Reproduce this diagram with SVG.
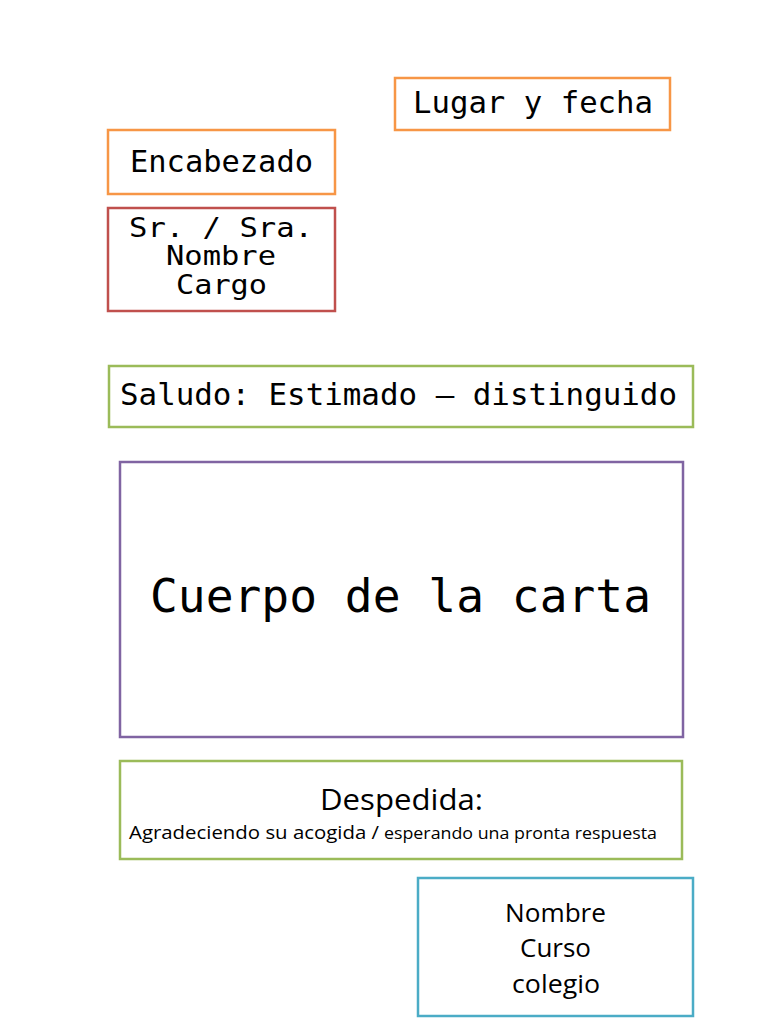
<svg xmlns="http://www.w3.org/2000/svg" width="768" height="1024" viewBox="0 0 768 1024">
<style>
.box{fill:#fff;stroke-width:2.5}
.mono{font-family:"DejaVu Sans Mono","Liberation Mono",monospace;fill:#000}
.sans{font-family:"Open Sans","Noto Sans","Liberation Sans",sans-serif;fill:#000}
</style>
<rect width="768" height="1024" fill="#fff"/>
<g id="lugar">
<rect class="box" x="395" y="78" width="275" height="52" stroke="#F79646"/>
<text class="mono" x="413" y="113" font-size="30" textLength="240" lengthAdjust="spacingAndGlyphs">Lugar y fecha</text>
</g>
<g id="encabezado">
<rect class="box" x="108" y="130" width="227" height="64" stroke="#F79646"/>
<text class="mono" x="130" y="172" font-size="30" textLength="183" lengthAdjust="spacingAndGlyphs">Encabezado</text>
</g>
<g id="destinatario">
<rect class="box" x="108" y="208" width="227" height="103" stroke="#C0504D"/>
<text class="mono" x="129" y="237" font-size="27" textLength="184" lengthAdjust="spacingAndGlyphs">Sr. / Sra.</text>
<text class="mono" x="166" y="265" font-size="27" textLength="110" lengthAdjust="spacingAndGlyphs">Nombre</text>
<text class="mono" x="176" y="294" font-size="27" textLength="91" lengthAdjust="spacingAndGlyphs">Cargo</text>
</g>
<g id="saludo">
<rect class="box" x="109" y="366" width="584" height="61" stroke="#9BBB59"/>
<text class="mono" x="120" y="405" font-size="30" textLength="557" lengthAdjust="spacingAndGlyphs">Saludo: Estimado – distinguido</text>
</g>
<g id="cuerpo">
<rect class="box" x="120" y="462" width="563" height="275" stroke="#8064A2"/>
<text class="mono" x="150" y="612" font-size="46" textLength="501" lengthAdjust="spacingAndGlyphs">Cuerpo de la carta</text>
</g>
<g id="despedida">
<rect class="box" x="120" y="761" width="562" height="98" stroke="#9BBB59"/>
<text class="sans" x="320" y="810" font-size="30" textLength="163" lengthAdjust="spacingAndGlyphs">Despedida:</text>
<text class="sans" x="129" y="839" font-size="19" textLength="250" lengthAdjust="spacingAndGlyphs">Agradeciendo su acogida /</text>
<text class="sans" x="384" y="839" font-size="16" textLength="273" lengthAdjust="spacingAndGlyphs">esperando una pronta respuesta</text>
</g>
<g id="firma">
<rect class="box" x="418" y="878" width="275" height="138" stroke="#4BACC6"/>
<text class="sans" x="505" y="922" font-size="25" textLength="101" lengthAdjust="spacingAndGlyphs">Nombre</text>
<text class="sans" x="520" y="957" font-size="25" textLength="71" lengthAdjust="spacingAndGlyphs">Curso</text>
<text class="sans" x="512" y="993" font-size="25" textLength="88" lengthAdjust="spacingAndGlyphs">colegio</text>
</g>
<g id="connectors"></g>
</svg>
